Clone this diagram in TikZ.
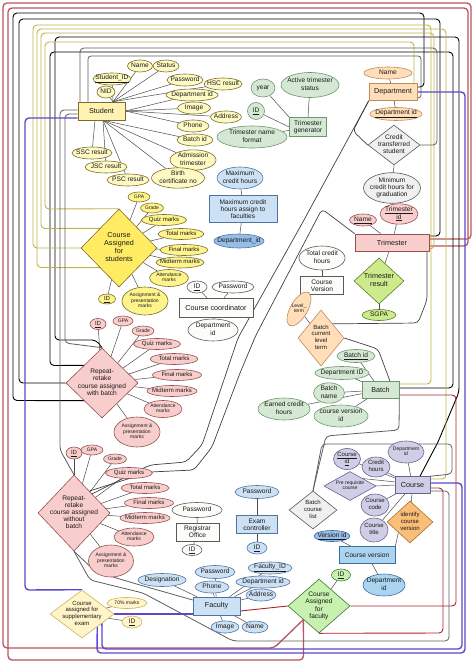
\documentclass[tikz,border=0pt]{standalone}
\usepackage{fontspec}
\setmainfont{Liberation Sans}
\usetikzlibrary{shapes.geometric}
\pgfdeclarelayer{bg}
\pgfsetlayers{bg,main}
\newcommand{\mytl}[1]{\makebox[0pt]{\begin{tabular}{@{}c@{}}#1\end{tabular}}}
\newcommand{\fA}{\fontsize{6.6}{7.2}\selectfont}
\newcommand{\fM}{\fontsize{6}{6.8}\selectfont}
\newcommand{\fS}{\fontsize{5}{5.7}\selectfont}
\newcommand{\fE}{\fontsize{7.2}{8.2}\selectfont}
\definecolor{yelF}{RGB}{255,250,195}
\definecolor{yelD}{RGB}{120,110,40}
\definecolor{stuF}{RGB}{255,242,178}
\definecolor{casF}{RGB}{255,236,100}
\definecolor{casAF}{RGB}{255,244,140}
\definecolor{grnF}{RGB}{213,232,212}
\definecolor{grnD}{RGB}{110,150,110}
\definecolor{orgF}{RGB}{255,222,185}
\definecolor{orgD}{RGB}{190,140,90}
\definecolor{gryF}{RGB}{240,240,240}
\definecolor{gryD}{RGB}{90,90,90}
\definecolor{bluF}{RGB}{205,225,245}
\definecolor{bluD}{RGB}{80,115,165}
\definecolor{bluM}{RGB}{150,190,232}
\definecolor{pnkF}{RGB}{248,206,204}
\definecolor{pnkD}{RGB}{150,80,80}
\definecolor{limF}{RGB}{205,235,140}
\definecolor{limD}{RGB}{90,130,40}
\definecolor{purF}{RGB}{208,206,230}
\definecolor{purD}{RGB}{100,100,140}
\definecolor{ocvF}{RGB}{250,190,120}
\definecolor{ocvD}{RGB}{170,110,50}
\definecolor{cvF}{RGB}{170,212,240}
\definecolor{cvD}{RGB}{60,110,160}
\definecolor{cafF}{RGB}{200,240,175}
\definecolor{cafD}{RGB}{60,120,60}
\definecolor{supF}{RGB}{255,245,200}
\definecolor{supD}{RGB}{200,180,90}
\definecolor{whtF}{RGB}{252,252,248}
\definecolor{lpPink}{RGB}{185,85,95}
\definecolor{lpRed}{RGB}{170,35,40}
\definecolor{lpOlv}{RGB}{190,180,70}
\definecolor{lpGry}{RGB}{95,95,95}
\definecolor{lpPur}{RGB}{95,70,205}
\begin{document}
\begin{tikzpicture}[x=1pt,y=-1pt,
  mybase/.style={inner sep=0pt, line width=0.6pt, font=\fA, text=black!90},
  ell/.style={mybase, ellipse},
  bx/.style={mybase, rectangle, align=center},
  dm/.style={mybase, diamond},
  sat/.style={ell, fill=yelF, draw=yelD, minimum height=12pt},
  cat/.style={ell, fill=casAF, draw=yelD},
  gat/.style={ell, fill=grnF, draw=grnD},
  oat/.style={ell, fill=orgF, draw=orgD, minimum height=12pt},
  pat/.style={ell, fill=pnkF, draw=pnkD},
  wel/.style={ell, fill=whtF, draw=gryD},
  gell/.style={ell, fill=gryF, draw=gryD},
  bel/.style={ell, fill=bluF, draw=bluD},
  puat/.style={ell, fill=purF, draw=purD, font=\fM},
  al/.style={draw=black!70, line width=0.5pt},
  lp/.style={rounded corners=4pt, line width=0.9pt},
  pk/.style={draw=lpPink, line width=1.3pt},
  rd/.style={draw=lpRed},
  ol/.style={draw=lpOlv},
  bk/.style={draw=black},
  gy/.style={draw=lpGry, line width=0.8pt},
  pu/.style={draw=lpPur, line width=1.4pt},
  pr/.style={draw=black!75, line width=0.7pt}
]
\useasboundingbox (0,0) rectangle (474,663);

% ---------------- Student
\node[bx, fill=stuF, draw=yelD, minimum width=47pt, minimum height=18pt, font=\fE] (stu) at (101.5,111) {Student};
\node[sat, minimum width=25pt] (sName) at (140,66) {\mytl{Name}};
\node[sat, minimum width=26pt] (sStatus) at (166,66) {\mytl{Status}};
\node[sat, minimum width=38pt] (sId) at (112,79) {\mytl{\underline{Student\_ID}}};
\node[sat, minimum width=36pt] (sPwd) at (185,80) {\mytl{Password}};
\node[sat, minimum width=38pt] (sHsc) at (223,84) {\mytl{HSC result}};
\node[sat, minimum width=18pt] (sNid) at (106,92) {\mytl{NID}};
\node[sat, minimum width=52pt] (sDept) at (192,95) {\mytl{Department id}};
\node[sat, minimum width=33pt] (sImg) at (194,108) {\mytl{Image}};
\node[sat, minimum width=31pt] (sAddr) at (226,117) {\mytl{Address}};
\node[sat, minimum width=32pt] (sPhone) at (193,126) {\mytl{Phone}};
\node[sat, minimum width=36pt] (sBatch) at (195,140) {\mytl{Batch id}};
\node[sat, minimum width=46pt, minimum height=19pt] (sAdm) at (193,160) {\mytl{Admission\\trimester}};
\node[sat, minimum width=53pt, minimum height=19pt] (sBirth) at (178,178) {\mytl{Birth\\certificate no}};
\node[sat, minimum width=40pt] (sSsc) at (92,153) {\mytl{SSC result}};
\node[sat, minimum width=42pt] (sJsc) at (106,167) {\mytl{JSC result}};
\node[sat, minimum width=42pt] (sPsc) at (128,180) {\mytl{PSC result}};

% ---------------- Trimester generator
\node[gat, minimum width=24pt, minimum height=18pt] (tgYear) at (263,88) {\mytl{year}};
\node[gat, minimum width=58pt, minimum height=25pt] (tgAct) at (310,85) {\mytl{Active trimester\\status}};
\node[gat, minimum width=17pt, minimum height=17pt] (tgId) at (256,111) {\mytl{\underline{ID}}};
\node[bx, fill=grnF, draw=grnD, minimum width=37pt, minimum height=19pt] (tg) at (308,127) {Trimester\\generator};
\node[gat, minimum width=70pt, minimum height=22pt] (tgFmt) at (252,137) {\mytl{Trimester name\\format}};

% ---------------- Department
\node[oat, minimum width=48pt] (dName) at (388,73) {\mytl{Name}};
\node[bx, fill=orgF, draw=orgD, minimum width=48pt, minimum height=17pt, font=\fE] (dept) at (393,92) {Department};
\node[oat, minimum width=52pt, minimum height=13pt] (dId) at (396,114) {\mytl{\underline{Department id}}};
\node[dm, fill=gryF, draw=gryD, minimum width=52pt, minimum height=40pt] (ctr) at (394,145) {\mytl{Credit\\transferred\\student}};
\node[gell, minimum width=57pt, minimum height=30pt] (minC) at (392,188) {\mytl{Minimum\\credit hours for\\graduation}};

% ---------------- Max credit
\node[bel, minimum width=46pt, minimum height=22pt] (mcE) at (240,178) {\mytl{Maximum\\credit hours}};
\node[bx, fill=bluF, draw=bluD, minimum width=68pt, minimum height=27pt] (mcB) at (243,209) {Maximum credit\\hours assign to\\faculties};
\node[ell, fill=bluM, draw=bluD, minimum width=50pt, minimum height=14pt] (mcD) at (239,241) {\mytl{Department\_id}};

% ---------------- Trimester
\node[bx, fill=pnkF, draw=pnkD, minimum width=74pt, minimum height=17pt, font=\fE] (tr) at (392,242.5) {Trimester};
\node[pat, minimum width=27pt, minimum height=12pt] (trName) at (363,220) {\mytl{\underline{Name}}};
\node[pat, minimum width=38pt, minimum height=20pt] (trId) at (399,214) {\mytl{\underline{Trimester}\\\underline{id}}};
\node[dm, fill=limF, draw=limD, minimum width=50pt, minimum height=46pt, font=\fE] (trr) at (379,281) {\mytl{Trimester\\result}};
\node[ell, fill=limF, draw=limD, minimum width=34pt, minimum height=11pt] (sgpa) at (379,315) {\mytl{SGPA}};
\node[wel, minimum width=46pt, minimum height=24pt] (totC) at (322,258) {\mytl{Total credit\\hours}};
\node[bx, fill=whtF, draw=gryD, minimum width=43pt, minimum height=18pt] (cver) at (322,285.5) {Course\\Version};

% ---------------- Course coordinator
\node[bx, fill=whtF, draw=gryD, minimum width=74pt, minimum height=19pt, font=\fE] (cc) at (216,307.5) {Course coordinator};
\node[wel, minimum width=20pt, minimum height=12pt] (ccId) at (197,287) {\mytl{\underline{ID}}};
\node[wel, minimum width=42pt, minimum height=12pt] (ccPwd) at (233,287) {\mytl{Password}};
\node[wel, minimum width=50pt, minimum height=22pt] (ccD) at (213,330) {\mytl{Department\\id}};

% ---------------- Course assigned for students
\node[dm, fill=casF, draw=yelD, minimum width=76pt, minimum height=78pt, font=\fE] (cas) at (119,248) {\mytl{Course\\Assigned\\for\\students}};
\node[cat, font=\fS, minimum width=22pt, minimum height=10pt] (cGpa) at (139,197) {\mytl{GPA}};
\node[cat, font=\fS, minimum width=23pt, minimum height=10pt] (cGrade) at (152,208) {\mytl{Grade}};
\node[cat, font=\fM, minimum width=45pt, minimum height=11pt] (cQuiz) at (164,220) {\mytl{Quiz marks}};
\node[cat, font=\fM, minimum width=46pt, minimum height=11pt] (cTot) at (181,234) {\mytl{Total marks}};
\node[cat, font=\fM, minimum width=48pt, minimum height=11pt] (cFin) at (184,250) {\mytl{Final marks}};
\node[cat, font=\fM, minimum width=48pt, minimum height=11pt] (cMid) at (180,262.5) {\mytl{Midterm marks}};
\node[cat, font=\fS, minimum width=39pt, minimum height=17pt] (cAtt) at (169,278) {\mytl{Attendance\\marks}};
\node[cat, font=\fS, minimum width=46pt, minimum height=28pt] (cAsg) at (145,301) {\mytl{Assignment \&\\presentation\\marks}};
\node[cat, font=\fM, minimum width=17pt, minimum height=10pt] (cId) at (107,299) {\mytl{\underline{ID}}};

% ---------------- Repeat-retake with batch
\node[dm, fill=pnkF, draw=pnkD, minimum width=72pt, minimum height=70pt] (rwb) at (102,383) {\mytl{Repeat-\\retake\\course assigned\\with batch}};
\node[pat, font=\fM, minimum width=16pt, minimum height=11pt] (rbId) at (98,324) {\mytl{\underline{ID}}};
\node[pat, font=\fS, minimum width=20pt, minimum height=10pt] (rbGpa) at (123,321) {\mytl{GPA}};
\node[pat, font=\fS, minimum width=22pt, minimum height=10pt] (rbGrade) at (143,331) {\mytl{Grade}};
\node[pat, font=\fM, minimum width=47pt, minimum height=11pt] (rbQuiz) at (157,344) {\mytl{Quiz marks}};
\node[pat, font=\fM, minimum width=48pt, minimum height=11pt] (rbTot) at (174,359) {\mytl{Total marks}};
\node[pat, font=\fM, minimum width=49pt, minimum height=11pt] (rbFin) at (177,375) {\mytl{Final marks}};
\node[pat, font=\fM, minimum width=50pt, minimum height=11pt] (rbMid) at (172,391) {\mytl{Midterm marks}};
\node[pat, font=\fS, minimum width=38pt, minimum height=17pt] (rbAtt) at (163,409) {\mytl{Attendance\\marks}};
\node[pat, font=\fS, minimum width=46pt, minimum height=30pt] (rbAsg) at (137,432) {\mytl{Assignment \&\\presentation\\marks}};

% ---------------- Repeat-retake without batch
\node[dm, fill=pnkF, draw=pnkD, minimum width=72pt, minimum height=76pt] (rww) at (74,513) {\mytl{Repeat-\\retake\\course assigned\\without\\batch}};
\node[pat, font=\fM, minimum width=16pt, minimum height=12pt] (rwId) at (74,453) {\mytl{\underline{ID}}};
\node[pat, font=\fS, minimum width=22pt, minimum height=10pt] (rwGpa) at (92,450) {\mytl{GPA}};
\node[pat, font=\fS, minimum width=23pt, minimum height=10pt] (rwGrade) at (115,459) {\mytl{Grade}};
\node[pat, font=\fM, minimum width=47pt, minimum height=11pt] (rwQuiz) at (129,473) {\mytl{Quiz marks}};
\node[pat, font=\fM, minimum width=48pt, minimum height=11pt] (rwTot) at (145,488) {\mytl{Total marks}};
\node[pat, font=\fM, minimum width=49pt, minimum height=11pt] (rwFin) at (149,503) {\mytl{Final marks}};
\node[pat, font=\fM, minimum width=50pt, minimum height=11pt] (rwMid) at (145,518) {\mytl{Midterm marks}};
\node[pat, font=\fS, minimum width=40pt, minimum height=18pt] (rwAtt) at (134,537) {\mytl{Attendance\\marks}};
\node[pat, font=\fS, minimum width=45pt, minimum height=32pt] (rwAsg) at (111,561) {\mytl{Assignment \&\\presentation\\marks}};

% ---------------- Registrar / Exam controller
\node[bx, fill=whtF, draw=gryD, minimum width=43pt, minimum height=18pt] (ro) at (197.5,532) {Registrar\\Office};
\node[wel, minimum width=50pt, minimum height=15pt] (roPwd) at (197,510) {\mytl{Password}};
\node[wel, minimum width=20pt, minimum height=11pt] (roId) at (192,550) {\mytl{\underline{ID}}};
\node[bx, fill=bluF, draw=bluD, minimum width=41pt, minimum height=18pt] (ec) at (257,524.5) {Exam\\controller};
\node[bel, minimum width=44pt, minimum height=13pt] (ecPwd) at (257,492) {\mytl{Password}};
\node[bel, minimum width=20pt, minimum height=12pt] (ecId) at (257,548) {\mytl{\underline{ID}}};

% ---------------- Course
\node[bx, fill=purF, draw=purD, minimum width=35pt, minimum height=17pt, font=\fE] (crs) at (412.5,485) {Course};
\node[puat, minimum width=27pt, minimum height=21pt] (crsId) at (347,459) {\mytl{\underline{Course}\\\underline{id}}};
\node[puat, minimum width=28pt, minimum height=20pt] (crsCr) at (376,467) {\mytl{Credit\\hours}};
\node[puat, font=\fS, minimum width=36pt, minimum height=22pt] (crsDp) at (406,452) {\mytl{Department\\id}};
\node[dm, fill=purF, draw=purD, font=\fS, minimum width=52pt, minimum height=29pt] (preq) at (350,486) {\mytl{Pre requisite\\course}};
\node[puat, minimum width=28pt, minimum height=22pt] (crsCode) at (375,505) {\mytl{Course\\code}};
\node[puat, minimum width=28pt, minimum height=24pt] (crsTit) at (374,530) {\mytl{Course\\title}};
\node[dm, fill=ocvF, draw=ocvD, font=\fM, minimum width=46pt, minimum height=42pt] (icv) at (410,522) {\mytl{identify\\course\\version}};
\node[dm, fill=gryF, draw=gryD, font=\fM, minimum width=48pt, minimum height=38pt] (bcl) at (313,510) {\mytl{Batch\\course\\list}};
\node[ell, fill=bluM, draw=cvD, minimum width=36pt, minimum height=11pt] (verId) at (332,536) {\mytl{\underline{Version id}}};
\node[bx, fill=cvF, draw=cvD, minimum width=56pt, minimum height=17pt] (cvB) at (367,555) {Course version};
\node[ell, fill=cvF, draw=cvD, minimum width=42pt, minimum height=22pt] (cvD) at (384,585) {\mytl{Department\\id}};

% ---------------- Course assigned for faculty
\node[dm, fill=cafF, draw=cafD, minimum width=62pt, minimum height=54pt] (caf) at (319,606) {\mytl{Course\\Assigned\\for\\faculty}};
\node[ell, fill=cafF, draw=cafD, minimum width=19pt, minimum height=12pt] (cafId) at (341,575) {\mytl{\underline{ID}}};

% ---------------- Faculty
\node[bx, fill=bluF, draw=bluD, minimum width=47pt, minimum height=18pt, font=\fE] (fac) at (216.5,606) {Faculty};
\node[bel, minimum width=48pt, minimum height=13pt] (fDes) at (162,580) {\mytl{Designation}};
\node[bel, minimum width=40pt, minimum height=13pt] (fPwd) at (215,572) {\mytl{Password}};
\node[bel, minimum width=34pt, minimum height=12pt] (fPho) at (212,587) {\mytl{Phone}};
\node[bel, minimum width=44pt, minimum height=12pt] (fFid) at (270,568) {\mytl{\underline{Faculty\_ID}}};
\node[bel, minimum width=54pt, minimum height=12pt] (fDep) at (263,582) {\mytl{Department id}};
\node[bel, minimum width=30pt, minimum height=12pt] (fAdr) at (261,595) {\mytl{Address}};
\node[bel, minimum width=28pt, minimum height=12pt] (fImg) at (225,627) {\mytl{Image}};
\node[bel, minimum width=26pt, minimum height=12pt] (fNam) at (255,627) {\mytl{Name}};

% ---------------- Supplementary
\node[dm, fill=supF, draw=supD, font=\fM, minimum width=64pt, minimum height=48pt] (sup) at (82,614) {\mytl{Course\\assigned for\\supplementary\\exam}};
\node[ell, fill=supF, draw=supD, font=\fS, minimum width=40pt, minimum height=11pt] (s70) at (127,603) {\mytl{70\% marks}};
\node[ell, fill=supF, draw=supD, minimum width=20pt, minimum height=12pt] (sId2) at (132,622) {\mytl{\underline{ID}}};

% ---------------- Batch
\node[bx, fill=grnF, draw=grnD, minimum width=37pt, minimum height=17pt, font=\fE] (bat) at (380.5,390) {Batch};
\node[dm, fill=orgF, draw=orgD, minimum width=46pt, minimum height=56pt, font=\fM] (bclv) at (321,338) {\mytl{Batch\\current\\level\\term}};
\node[ell, fill=orgF, draw=orgD, minimum width=38pt, minimum height=17pt, rotate=60] (lvl) at (299,309) {};
\node[font=\fS, inner sep=0pt, text=black!90] (lvlT) at (299,309) {\mytl{Level\_\\term}};
\node[gat, minimum width=38pt, minimum height=13pt] (bId) at (356,356) {\mytl{\underline{Batch id}}};
\node[gat, minimum width=54pt, minimum height=13pt] (bDep) at (342,373) {\mytl{Department ID}};
\node[gat, minimum width=31pt, minimum height=19pt] (bNam) at (329,393) {\mytl{Batch\\name}};
\node[gat, minimum width=52pt, minimum height=22pt] (bEar) at (284,409) {\mytl{Earned credit\\hours}};
\node[gat, minimum width=54pt, minimum height=22pt] (bCv) at (341,416) {\mytl{course version\\id}};

\begin{pgfonlayer}{bg}
\fill[white] (0,0) rectangle (474,663);
% ---- long relationship loops
\draw[lp,pk] (tr.east |- 0,239) -- (471,239) -- (471,3) -- (3,3) -- (3,648) -- (274,648) -- (caf.south west);
\draw[lp,pk] (tr.east |- 0,246) -- (468,246) -- (468,8) -- (8,8) -- (8,660) -- (303.5,660) -- (caf.south west);
\draw[lp,bk] (rwb.south west) -- (13,400.5) -- (13,13) -- (424,13) -- (424,87) -- (dept.east |- 0,87);
\draw[lp,bk] (rwb.west) -- (19,383) -- (19,19) -- (440,19) -- (440,236) -- (tr.east |- 0,236);
\draw[lp,bk] (rwb.north west) -- (50,365.5) -- (50,52) -- (453,52) -- (453,388) -- (bat.east |- 0,388);
\draw[lp,bk] (rwb.north) -- (96,340) -- (55,340) -- (55,37) -- (459,37) -- (459,392) -- (438,442) -- (crs.north -| 420,0);
\draw[lp,ol] (cas.west) -- (33,248) -- (33,25) -- (431,25) -- (431,384) -- (bat.east |- 0,384);
\draw[lp,ol] (cas.south west) -- (37,267.5) -- (37,29) -- (446,29) -- (446,479) -- (crs.east |- 0,479);
\draw[lp,ol] (cas.north west) -- (41,228.5) -- (41,33) -- (434,33) -- (434,249) -- (tr.east |- 0,249);
\draw[lp,ol] (cas.north) -- (45,209) -- (45,42) -- (414,42) -- (dept.north -| 414,0);
\draw[lp,gy] (stu.north -| 80,0) -- (80,48) -- (437,48) -- (437,145) -- (ctr.east);
\draw[lp,gy,rounded corners=3pt] (stu.north -| 88,0) -- (88,56) -- (421,56) -- (421,98) -- (dept.east |- 0,98);
\draw[lp,gy] (stu.west |- 0,110) -- (60,110) -- (60,450) -- (rww.north);
\draw[lp,gy] (stu.west |- 0,114) -- (65,114) -- (65,343) -- (rwb.north);
\draw[lp,pu] (stu.west |- 0,118) -- (25,118) -- (25,590) -- (sup.north);
\draw[lp,pu] (dept.east |- 0,92) -- (465,92) -- (465,653) -- (97,653) -- (sup.320);
\draw[lp,pu] (crs.east |- 0,483) -- (462,483) -- (462,649) -- (102,649) -- (sup.335);
\draw[lp,pu] (sup.east) -- (fac.west |- sup.east);
\draw[lp,rd] (bat.east |- 0,395) -- (456,395) -- (456,606) -- (caf.east);
\draw[lp,rd] (crs.east |- 0,488) -- (443,488) -- (443,633) -- (caf.south);
\draw[lp,rd] (fac.east |- 0,611) -- (caf.west);
\draw[lp,gy] (rww.south) -- (90,580) -- (143,593) -- (233,641) -- (449,641) -- (449,491) -- (crs.east |- 0,491);
\draw[lp,gy] (rww.south) -- (96,572) -- (140,585) -- (fac.west |- 0,600);
\draw[lp,pr] (dept.south west) -- (304,220) -- (238,338) -- (202,445) -- (186,462) -- (150,465) -- (rww.north east);
\draw[lp,pr] (tr.north west) -- (322,209) -- (256,335) -- (240,373) -- (212,447) -- (194,470) -- (150,472) -- (rww.55);
\draw[lp,gy] (bat.south east) -- (399,430) -- (326,436) -- (bcl.north);
\draw[lp,gy] (bcl.north) -- (322,444) -- (452,444) -- (452,474) -- (crs.north east);
\draw[lp,pr] (bclv.east) -- (378,349) -- (bat.north -| 390,0);
\draw[lp,pr] (bclv.north east) -- (418,323) -- (427,300) -- (tr.south -| 427,0);
\draw[lp,pr] (dept.south west) -- (353,131) -- (ctr.west);

% ---- attribute links
\foreach \n in {sName,sStatus,sPwd,sHsc,sId,sNid} \draw[al] (stu.north -| 113,0) -- (\n);
\foreach \n in {sDept,sImg,sAddr,sPhone} \draw[al] (stu.east) -- (\n);
\foreach \n in {sBatch,sAdm,sBirth,sPsc,sJsc} \draw[al] (stu.south -| 103,0) -- (\n);
\draw[al] (stu.south -| 95,0) -- (sSsc);
\draw[al] (tgYear) -- (tg.north west);
\draw[al] (tgAct) -- (tg.north);
\draw[al] (tgId) -- (tg.west);
\draw[al] (tgFmt) -- (tg);
\draw[al] (dName) -- (dept);
\draw[al] (dId) -- (dept);
\draw[al] (ctr.south) -- (minC);
\draw[al] (mcE) -- (mcB);
\draw[al] (mcB) -- (mcD);
\draw[al] (trName) -- (tr);
\draw[al] (trId) -- (tr);
\draw[al] (tr) -- (trr);
\draw[al] (trr) -- (sgpa);
\draw[al] (totC) -- (cver);
\foreach \n in {ccId,ccPwd,ccD} \draw[al] (cc) -- (\n);
\foreach \n in {cGpa,cGrade,cQuiz,cTot,cFin,cMid,cAtt,cAsg,cId} \draw[al] (cas) -- (\n);
\foreach \n in {rbId,rbGpa,rbGrade,rbQuiz,rbTot,rbFin,rbMid,rbAtt,rbAsg} \draw[al] (rwb) -- (\n);
\foreach \n in {rwId,rwGpa,rwGrade,rwQuiz,rwTot,rwFin,rwMid,rwAtt,rwAsg} \draw[al] (rww) -- (\n);
\draw[al] (ro) -- (roPwd);
\draw[al] (ro) -- (roId);
\draw[al] (ec) -- (ecPwd);
\draw[al] (ec) -- (ecId);
\foreach \n in {crsId,crsCr,crsDp,crsCode,crsTit,icv} \draw[al] (crs) -- (\n);
\draw[al] (preq.east) -- (crs.west);
\draw[al] (preq.north east) -- (crs.170);
\draw[al] (icv.south west) -- (cvB.north east);
\draw[al] (verId) -- (cvB);
\draw[al] (cvB) -- (cvD);
\draw[al] (cafId) -- (caf);
\foreach \n in {fDes,fPwd,fPho,fFid,fDep,fAdr,fImg,fNam} \draw[al] (fac) -- (\n);
\draw[al] (sup) -- (s70);
\draw[al] (sup) -- (sId2);
\foreach \n in {bId,bDep,bNam,bEar,bCv} \draw[al] (bat) -- (\n);
\draw[al] (bclv) -- (lvl);
\end{pgfonlayer}
\end{tikzpicture}
\end{document}
